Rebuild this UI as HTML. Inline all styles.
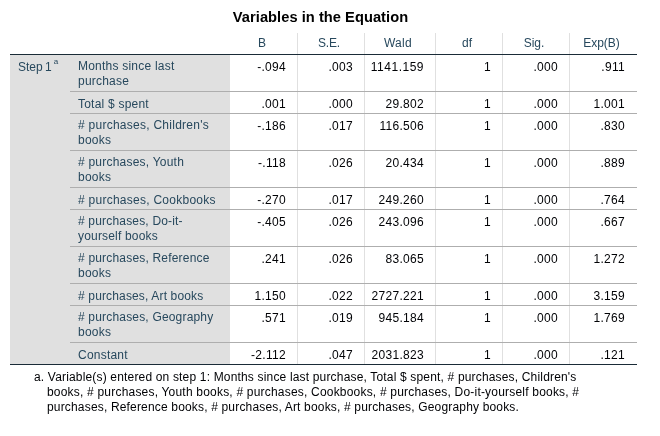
<!DOCTYPE html>
<html><head><meta charset="utf-8">
<style>
html,body{margin:0;padding:0;background:#fff;}
body{will-change:transform;width:660px;height:436px;overflow:hidden;position:relative;font-family:"Liberation Sans",sans-serif;font-size:12px;color:#010205;letter-spacing:0.2px;}
.title{position:absolute;left:0;width:641px;top:8px;text-align:center;font-weight:bold;font-size:14.67px;line-height:18px;color:#000;letter-spacing:0.04px;}
table{position:absolute;left:10px;top:32px;border-collapse:separate;border-spacing:0;table-layout:fixed;width:627px;}
td,th{padding:0;font-weight:normal;vertical-align:top;line-height:15px;box-sizing:border-box;white-space:nowrap;overflow:hidden;}
th{height:22px;color:#27485d;text-align:center;background:linear-gradient(#e0e0e0,#e0e0e0) no-repeat 0 1px / 1px 100%;padding:4px 3px 0 0;letter-spacing:0;}
th.e{background:none;}
td.s{background:#e0e0e0;color:#27485d;text-align:left;padding:5px 0 0 8px;border-top:1px solid #1a2b37;border-bottom:1px solid #1a2b37;letter-spacing:0;word-spacing:-1px;}
td.l{background:#e0e0e0;color:#27485d;text-align:left;letter-spacing:0.22px;padding:4px 0 0 8px;border-top:1px solid #aeaeae;}
td.n{text-align:right;letter-spacing:0.3px;padding:5px 11px 0 0;border-top:1px solid #aeaeae;box-shadow:inset 1px 0 0 #e0e0e0;}
td.n.f{box-shadow:none;}
td.n:last-child{padding-right:12px;}
tr.top td.l, tr.top td.n{border-top:1px solid #1a2b37;}
tr.h1 td{height:22px;} tr.h1 td.l{padding-top:5px;} tr.h2 td{height:37px;}
tr.last td{border-bottom:1px solid #1a2b37;height:23px;}
sup{font-size:8px;vertical-align:top;position:relative;top:2px;left:2px;line-height:0;letter-spacing:0;}
.fn{position:absolute;left:34px;top:370px;width:600px;line-height:15px;color:#010205;white-space:nowrap;letter-spacing:0.17px;}
.fn div{padding-left:13px;}
.fn div.a{padding-left:0;}
</style></head><body>
<div class="title">Variables in the Equation</div>
<table>
<colgroup><col style="width:60px"><col style="width:160px"><col style="width:67px"><col style="width:67px"><col style="width:71px"><col style="width:67px"><col style="width:67px"><col style="width:68px"></colgroup>
<tr><th class="e"></th><th class="e"></th><th class="e">B</th><th style="letter-spacing:-0.2px">S.E.</th><th style="letter-spacing:0.3px">Wald</th><th>df</th><th>Sig.</th><th>Exp(B)</th></tr>
<tr class="top h2"><td class="s" rowspan="10">Step 1<sup>a</sup></td><td class="l">Months since last<br>purchase</td><td class="n f">-.094</td><td class="n">.003</td><td class="n" style="letter-spacing:0.5px">1141.159</td><td class="n">1</td><td class="n">.000</td><td class="n">.911</td></tr>
<tr class="h1"><td class="l">Total $ spent</td><td class="n f">.001</td><td class="n">.000</td><td class="n">29.802</td><td class="n">1</td><td class="n">.000</td><td class="n">1.001</td></tr>
<tr class="h2"><td class="l"><span style="letter-spacing:0.26px"># purchases, Children's</span><br>books</td><td class="n f">-.186</td><td class="n">.017</td><td class="n">116.506</td><td class="n">1</td><td class="n">.000</td><td class="n">.830</td></tr>
<tr class="h2"><td class="l"># purchases, Youth<br>books</td><td class="n f">-.118</td><td class="n">.026</td><td class="n">20.434</td><td class="n">1</td><td class="n">.000</td><td class="n">.889</td></tr>
<tr class="h1"><td class="l" style="letter-spacing:0.26px"># purchases, Cookbooks</td><td class="n f">-.270</td><td class="n">.017</td><td class="n">249.260</td><td class="n">1</td><td class="n">.000</td><td class="n">.764</td></tr>
<tr class="h2"><td class="l"><span style="letter-spacing:0.18px"># purchases, Do-it-<br>yourself books</span></td><td class="n f">-.405</td><td class="n">.026</td><td class="n">243.096</td><td class="n">1</td><td class="n">.000</td><td class="n">.667</td></tr>
<tr class="h2"><td class="l"><span style="letter-spacing:0.19px"># purchases, Reference</span><br>books</td><td class="n f">.241</td><td class="n">.026</td><td class="n">83.065</td><td class="n">1</td><td class="n">.000</td><td class="n">1.272</td></tr>
<tr class="h1"><td class="l" style="letter-spacing:0.15px"># purchases, Art books</td><td class="n f">1.150</td><td class="n">.022</td><td class="n">2727.221</td><td class="n">1</td><td class="n">.000</td><td class="n">3.159</td></tr>
<tr class="h2"><td class="l"><span style="letter-spacing:0.18px"># purchases, Geography</span><br>books</td><td class="n f">.571</td><td class="n">.019</td><td class="n">945.184</td><td class="n">1</td><td class="n">.000</td><td class="n">1.769</td></tr>
<tr class="h1 last"><td class="l">Constant</td><td class="n f">-2.112</td><td class="n">.047</td><td class="n">2031.823</td><td class="n">1</td><td class="n">.000</td><td class="n">.121</td></tr>
</table>
<div class="fn"><div class="a">a. Variable(s) entered on step 1: Months since last purchase, Total $ spent, # purchases, Children's</div><div style="letter-spacing:0.2px">books, # purchases, Youth books, # purchases, Cookbooks, # purchases, Do-it-yourself books, #</div><div>purchases, Reference books, # purchases, Art books, # purchases, Geography books.</div></div>
</body></html>
